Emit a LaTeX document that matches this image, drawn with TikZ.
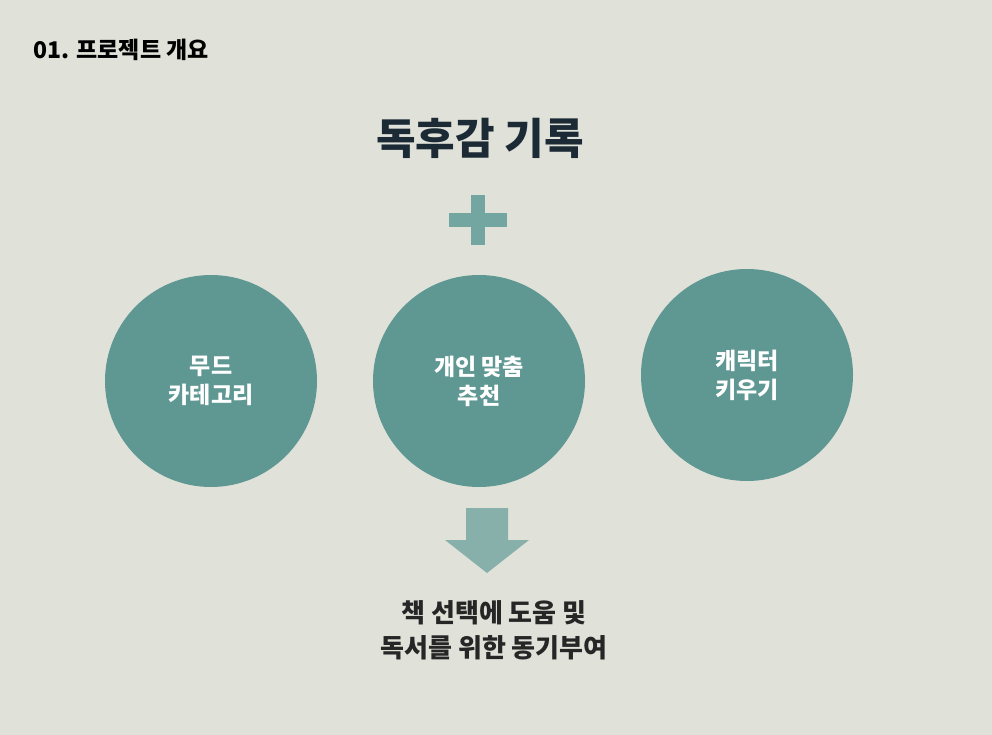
\documentclass[tikz,border=0pt]{standalone}
\usepackage{fontspec}
\setmainfont{Noto Sans CJK KR}
\begin{document}
\begin{tikzpicture}[x=1pt,y=-1pt,
  circ/.style={circle,fill=circ,minimum size=212pt,inner sep=0pt,text=white,font=\bfseries\fontsize{23}{29}\selectfont,align=center},
  ]
\definecolor{bg}{HTML}{E0E1D9}
\definecolor{circ}{HTML}{5F9893}
\definecolor{plusc}{HTML}{74A6A1}
\definecolor{arr}{HTML}{87B0AA}
\definecolor{ttl}{HTML}{1B2A35}
\fill[bg] (0,0) rectangle (992,735);
\useasboundingbox (0,0) rectangle (992,735);
\node[anchor=west,font=\bfseries\fontsize{23}{28}\selectfont,text=black] (hdr) at (30,50) {01. 프로젝트 개요};
\node[font=\bfseries\fontsize{43}{50}\selectfont,text=ttl] (title) at (480,138) {독후감 기록};
\fill[plusc] (449,213) rectangle (507,227);
\fill[plusc] (471,195) rectangle (485,245);
\node[circ] (c1) at (211,381) {무드\\카테고리};
\node[circ] (c2) at (479,381) {개인 맞춤\\추천};
\node[circ] (c3) at (747,375) {캐릭터\\키우기};
\fill[arr] (466,508) -- (508,508) -- (508,540) -- (529,540) -- (487,573) -- (445,540) -- (466,540) -- cycle;
\node[font=\bfseries\fontsize{26}{35}\selectfont,text=black!85,align=center] (res) at (494,630) {책 선택에 도움 및\\독서를 위한 동기부여};
\end{tikzpicture}
\end{document}
